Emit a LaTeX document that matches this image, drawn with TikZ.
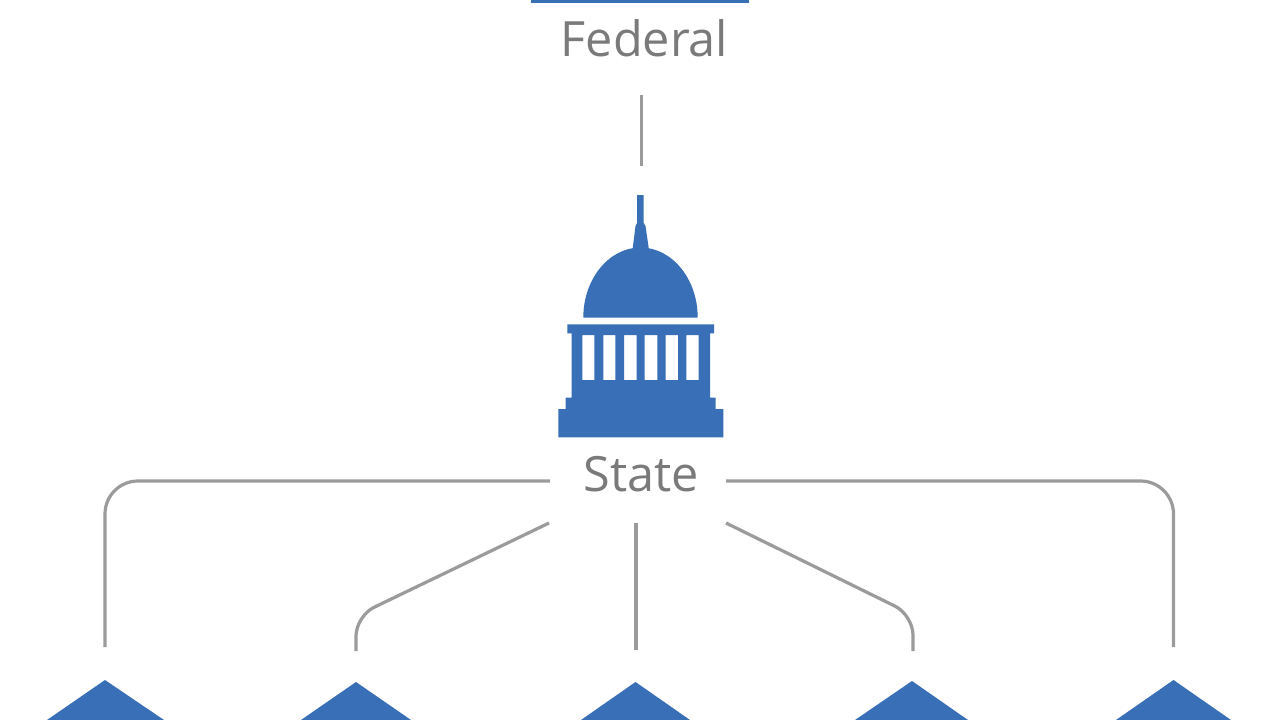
\documentclass[tikz,border=0pt]{standalone}
\usepackage{fontspec}
\setmainfont{Open Sans}
\definecolor{capblue}{HTML}{386FB6}
\definecolor{linegray}{HTML}{9B9B9B}
\definecolor{textgray}{HTML}{7A7A7A}
\tikzset{
  link/.style={draw=linegray,line width=3.2pt},
  label/.style={text=textgray,font=\fontsize{48.6}{48.6}\selectfont,inner sep=0pt},
  bluefill/.style={fill=capblue,draw=none}
}
\begin{document}
\begin{tikzpicture}[x=1pt,y=-1pt]
\useasboundingbox[fill=white] (0,0) rectangle (1280,720);
% top bar
\fill[bluefill] (531,0) rectangle (749,3);
% labels
\node[label,anchor=base] (federal) at (644.5,56.5) {Federal};
\node[label,anchor=base] (state) at (641,491.5) {State};
% capitol
\fill[bluefill] (637,195) -- (643.7,195) -- (643.7,223) -- (645.5,226) -- (649,250)
  -- (632.5,250) -- (635.5,226) -- (637,223) -- cycle;
\fill[bluefill] (697.7,317.5) .. controls (697.7,279) and (672,247.5) .. (640.5,247.5)
  .. controls (609,247.5) and (583.3,279) .. (583.3,317.5) -- cycle;
\fill[bluefill,even odd rule] (567.3,324.3) -- (714,324.3) -- (714,333.3) -- (710,333.3) -- (710,397.5)
  -- (715.7,397.5) -- (715.7,409) -- (723.3,409) -- (723.3,437.3) -- (558.3,437.3) -- (558.3,409)
  -- (565.7,409) -- (565.7,397.5) -- (571.7,397.5) -- (571.7,333.3) -- (567.3,333.3) -- cycle
  (582.3,335) rectangle (594.3,380)
  (603.3,335) rectangle (615.3,380)
  (624,335) rectangle (636.7,380)
  (644.7,335) rectangle (657.3,380)
  (665.7,335) rectangle (678,380)
  (686.3,335) rectangle (698.7,380);
% connector ends
\coordinate (fedLow) at (641.5,95);
\coordinate (capTop) at (641.5,166);
\coordinate (sL) at (550,481);
\coordinate (sR) at (726,481);
\coordinate (dL) at (549,523);
\coordinate (dM) at (636,523);
\coordinate (dR) at (726,523);
\coordinate (h1) at (105,647);
\coordinate (h2) at (356,651);
\coordinate (h3) at (636,650);
\coordinate (h4) at (913,651);
\coordinate (h5) at (1173.5,647);
% connectors
\draw[link] (fedLow) -- (capTop);
\draw[link,rounded corners=33pt] (sL) -- (105,481) -- (h1);
\draw[link,rounded corners=33pt] (sR) -- (1173.5,481) -- (h5);
\draw[link,rounded corners=20pt] (dL) -- (356,616) -- (h2);
\draw[link] (dM) -- (h3);
\draw[link,rounded corners=20pt] (dR) -- (913,615) -- (h4);
% roofs
\fill[bluefill] (105,680) -- (164,720) -- (47,720) -- cycle;
\fill[bluefill] (356,682) -- (411,720) -- (301,720) -- cycle;
\fill[bluefill] (635.5,682) -- (690,720) -- (581,720) -- cycle;
\fill[bluefill] (912,681) -- (968,720) -- (855,720) -- cycle;
\fill[bluefill] (1173.5,680) -- (1231,720) -- (1116,720) -- cycle;
\end{tikzpicture}
\end{document}
